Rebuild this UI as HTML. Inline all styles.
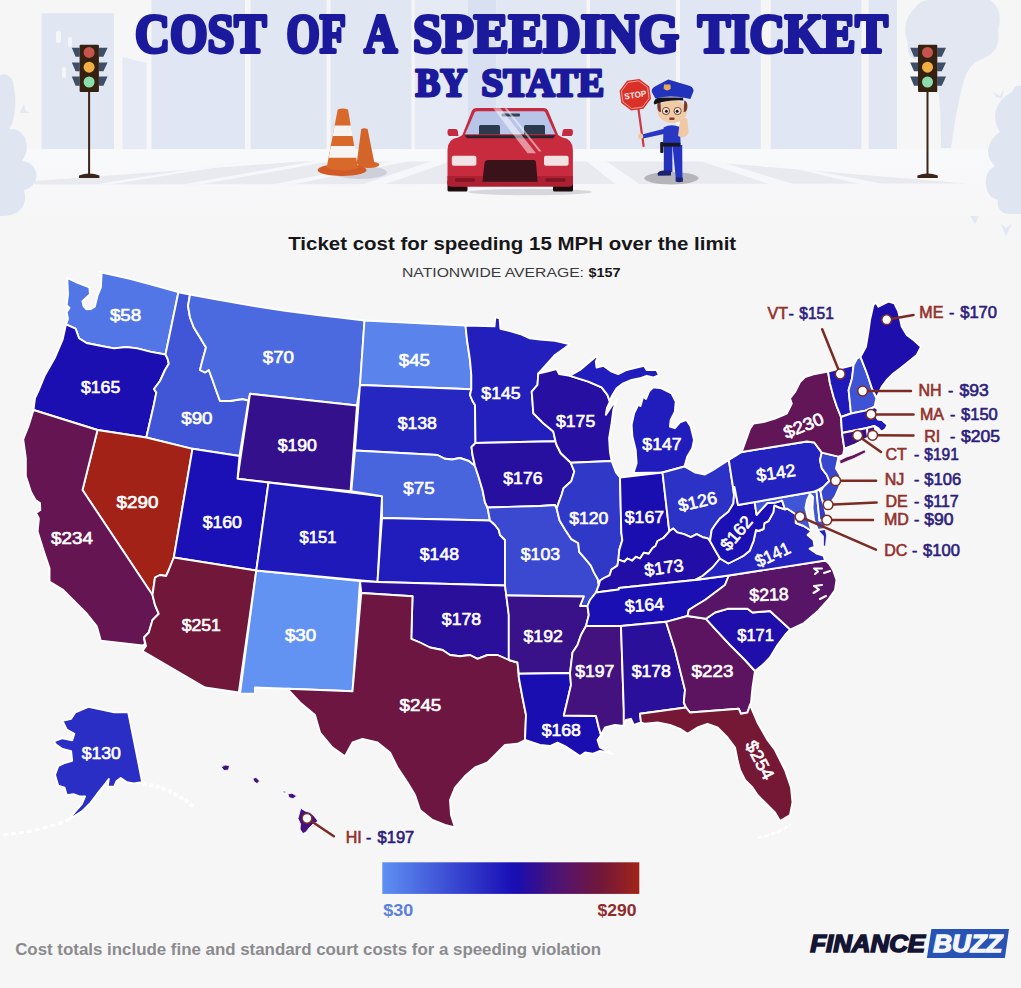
<!DOCTYPE html>
<html><head><meta charset="utf-8"><title>Cost of a Speeding Ticket by State</title>
<style>
html,body{margin:0;padding:0;background:#f6f6f6;}
body{width:1021px;height:988px;overflow:hidden;font-family:"Liberation Sans",sans-serif;}
svg{display:block}
.st{stroke:#fff;stroke-width:1.9;stroke-linejoin:round}
.lb{font-family:"Liberation Sans",sans-serif;font-weight:normal;font-size:17.4px;fill:#fff;stroke:#fff;stroke-width:0.65;text-anchor:middle}
.ab{font-family:"Liberation Sans",sans-serif;font-weight:normal;font-size:16px;fill:#93302a;stroke:#93302a;stroke-width:0.6}
.vl{font-family:"Liberation Sans",sans-serif;font-weight:normal;font-size:16px;fill:#2d1d7c;stroke:#2d1d7c;stroke-width:0.6}
.ln{stroke:#7a2b24;stroke-width:2.5;fill:none;stroke-linecap:round}
.dot{fill:#fff;stroke:#7a2b24;stroke-width:1.5}
</style></head><body>
<svg width="1021" height="988" viewBox="0 0 1021 988">
<defs>
<linearGradient id="lg" x1="0" x2="1" y1="0" y2="0"><stop offset="0.000" stop-color="#5f8ff2"/><stop offset="0.500" stop-color="#1a10b6"/><stop offset="0.531" stop-color="#1b0eb0"/><stop offset="0.569" stop-color="#2a0f9b"/><stop offset="0.615" stop-color="#35108c"/><stop offset="0.642" stop-color="#43127f"/><stop offset="0.723" stop-color="#581466"/><stop offset="0.769" stop-color="#621557"/><stop offset="0.846" stop-color="#70173a"/><stop offset="1.000" stop-color="#a2241a"/></linearGradient>
<linearGradient id="rd" x1="0" x2="0" y1="0" y2="1"><stop offset="0" stop-color="#f8f9fb"/><stop offset="0.6" stop-color="#f7f7f9"/><stop offset="1" stop-color="#f6f6f6"/></linearGradient>
</defs>
<rect width="1021" height="988" fill="#f6f6f6"/>

<g id="header">
<!-- buildings -->
<rect x="41.6" y="13.3" width="72.4" height="136" fill="#e1e6f3"/>
<path d="M122.5 57 L146.5 63 L146.5 149.3 L122.5 149.3Z" fill="#e5eaf4"/>
<rect x="151.5" y="0" width="93.5" height="149.3" fill="#e0e6f3"/>
<rect x="250.6" y="0" width="76" height="149.3" fill="#e1e6f3"/>
<rect x="330.6" y="0" width="81" height="149.3" fill="#e1e6f3"/>
<rect x="414.8" y="0" width="55" height="149.3" fill="#e6eaf5"/>
<rect x="468" y="0" width="28.4" height="149.3" fill="#d9e0f1"/>
<rect x="496.4" y="0" width="90" height="149.3" fill="#e2e7f4"/>
<rect x="590" y="0" width="86" height="149.3" fill="#e1e6f3"/>
<rect x="680" y="0" width="80.8" height="149.3" fill="#e0e6f3"/>
<rect x="770.8" y="0" width="90.6" height="149.3" fill="#e0e6f3"/>
<rect x="868.7" y="0" width="28.3" height="149.3" fill="#e1e6f3"/>
<!-- windows on bldg1 -->
<rect x="56" y="31" width="5" height="12" rx="2" fill="#f4f6fb"/><rect x="68" y="37" width="4" height="10" rx="2" fill="#f4f6fb"/><rect x="62" y="67" width="4" height="11" rx="2" fill="#f4f6fb"/>
<!-- road -->
<rect x="0" y="149.3" width="1021" height="70" fill="url(#rd)"/>
<path d="M35 181 L300 161.5 L703 161.5 L967 183.5 L35 184.5Z" fill="#e8eaf0"/>
<g fill="#f6f7fa">
<path d="M95 184.5 L110 184.5 L250 162 L236 162Z"/>
<path d="M182 184.5 L200 184.5 L332 161 L316 161Z"/>
<path d="M272 184.5 L292 184.5 L410 161 L392 161Z"/>
<path d="M362 184.5 L384 184.5 L452 161 L432 161Z"/>
<path d="M586 161 L606 161 L640 184.5 L616 184.5Z"/>
<path d="M700 161 L718 161 L795 184.5 L770 184.5Z"/>
<path d="M792 168 L808 169.5 L886 184.5 L862 184.5Z"/>
</g>
<!-- trees -->
<g fill="#dfe5f1">
<path d="M0 75 Q9 72 13 82 Q17 100 14 116 Q13 124 9 129 Q20 128 25 138 Q30 150 22 161 Q34 162 36.4 174 Q37 186 24 190 Q27 200 22 208 Q14 217 0 216Z"/>
<path d="M19.5 113 L24 104 L25.5 111 L30 113Z" opacity="0.8"/>
<path d="M1021 86 Q1015 84 1012 92 Q1000 98 996 110 Q993 122 1000 132 Q990 138 988 150 Q988 160 995 166 Q984 172 986 186 Q988 198 998 200 Q996 210 1006 213.8 L1021 214Z"/>
<path d="M993 92 L1000 96 L1004 88 L1002 98 L996 97Z M970 216 L975 224 L979 216Z M1001 224 L1006 236 L1012 224 L1006 228Z" opacity="0.85"/>
</g>
<path d="M941 148 Q941 110 938 86 Q934 66 936 60 Q905 66 908 44 Q900 22 915 8 Q920 0 930 0 L990 0 Q1004 10 998 30 Q1002 52 980 60 Q969 64 964 80 Q956 110 951 148Z" fill="#e2e7f2"/>
<!-- traffic lights -->
<g>
<path d="M71.8 47.8 L79.7 47.8 L79.7 56.7 L75.6 56.7Z M107.6 47.8 L98.8 47.8 L98.8 56.7 L103.4 56.7Z M71.8 62.6 L79.7 62.6 L79.7 71.2 L75.6 71.2Z M107.6 62.6 L98.8 62.6 L98.8 71.2 L103.4 71.2Z M71.8 76.4 L79.7 76.4 L79.7 85.7 L75.6 85.7Z M107.6 76.4 L98.8 76.4 L98.8 85.7 L103.4 85.7Z" fill="#3d4e66"/>
<rect x="79.6" y="44.8" width="19.3" height="47.2" rx="1" fill="#35210f"/>
<circle cx="89.1" cy="52.4" r="5.5" fill="#c6544e"/><circle cx="89.1" cy="67.2" r="5.5" fill="#f0ae44"/><circle cx="89.1" cy="82" r="5.5" fill="#8cdcae"/>
<rect x="88.1" y="91.5" width="2" height="82.5" fill="#3c2418"/>
<path d="M79 178 L99.4 178 L99.4 175.5 Q89.2 171.5 79 175.5Z" fill="#3c2418"/>
</g>
<g transform="translate(838.4 0)">
<path d="M71.8 47.8 L79.7 47.8 L79.7 56.7 L75.6 56.7Z M107.6 47.8 L98.8 47.8 L98.8 56.7 L103.4 56.7Z M71.8 62.6 L79.7 62.6 L79.7 71.2 L75.6 71.2Z M107.6 62.6 L98.8 62.6 L98.8 71.2 L103.4 71.2Z M71.8 76.4 L79.7 76.4 L79.7 85.7 L75.6 85.7Z M107.6 76.4 L98.8 76.4 L98.8 85.7 L103.4 85.7Z" fill="#3d4e66"/>
<rect x="79.6" y="44.8" width="19.3" height="47.2" rx="1" fill="#35210f"/>
<circle cx="89.1" cy="52.4" r="5.5" fill="#c6544e"/><circle cx="89.1" cy="67.2" r="5.5" fill="#f0ae44"/><circle cx="89.1" cy="82" r="5.5" fill="#8cdcae"/>
<rect x="88.1" y="91.5" width="2" height="82.5" fill="#3c2418"/>
<path d="M79 178 L99.4 178 L99.4 175.5 Q89.2 171.5 79 175.5Z" fill="#3c2418"/>
</g>
<!-- cones -->
<ellipse cx="360" cy="172.4" rx="27" ry="6.5" fill="#cdd0d8"/>
<ellipse cx="368.6" cy="164.8" rx="10.8" ry="3.2" fill="#d8642a"/>
<path d="M361.2 129 Q364.4 127.6 367.6 129 L374.6 164 L356.6 164Z" fill="#d4652a"/>
<ellipse cx="342.1" cy="170" rx="24.5" ry="6" fill="#d25a26"/>
<path d="M337.7 109.4 Q342.8 107.6 348 109.4 L358 168 Q342 173 326.6 168Z" fill="#d8692a"/>
<path d="M334.6 125.4 L351 125.4 L352.9 136.1 L332.7 136.1Z M330.9 145.9 L354.7 145.9 L356.8 157.7 L328.7 157.7Z" fill="#f6f3f2"/>
<!-- car -->
<ellipse cx="530" cy="192" rx="62" ry="3.2" fill="#d6d7dc"/>
<rect x="447.5" y="180" width="20" height="11.6" rx="1.5" fill="#1c0c0e"/><rect x="553" y="180" width="20" height="11.6" rx="1.5" fill="#1c0c0e"/>
<path d="M461.6 137 L472 110.5 Q473 108 476 108 L544 108 Q547 108 548 110.5 L559 137Z" fill="#c62a3e"/>
<path d="M464.5 135.5 L474.6 112.6 Q475.2 111.3 477 111.3 L543 111.3 Q544.8 111.3 545.4 112.6 L555.7 135.5Z" fill="#b9c4e9"/>
<rect x="479" y="125" width="21" height="11" rx="1.5" fill="#2c3a4c"/><rect x="524" y="125" width="21" height="11" rx="1.5" fill="#2c3a4c"/>
<rect x="501.6" y="113.6" width="18.4" height="3" rx="1" fill="#39424f"/>
<path d="M447.5 131 Q447.5 129 449.5 129 L455.5 129 Q457.5 129 457.8 131 L458.5 136 L449 136 Q447.5 135 447.5 133Z M572.9 131 Q572.9 129 570.9 129 L564.9 129 Q562.9 129 562.6 131 L561.9 136 L571.4 136 Q572.9 135 572.9 133Z" fill="#c62a3e"/>
<path d="M447.5 150 Q447.5 139 458 137.5 L464 134.3 L556.5 134.3 L562.5 137.5 Q572.9 139 572.9 150 L572.9 183 Q572.9 186.6 569 186.6 L451.5 186.6 Q447.5 186.6 447.5 183Z" fill="#c82a3e"/>
<path d="M447.5 176 L572.9 176 L572.9 183 Q572.9 186.6 569 186.6 L451.5 186.6 Q447.5 186.6 447.5 183Z" fill="#ad2032"/>
<path d="M464.5 135.2 L555.7 135.2 L553 138.2 L467 138.2Z" fill="#2a2630"/>
<path d="M488.5 160 L533.5 160 Q536 160 536 163 L537.6 181.8 L482.4 181.8 L484.5 163 Q485 160 488.5 160Z" fill="#3a1219"/>
<rect x="451.8" y="155.8" width="24.6" height="10" rx="2" fill="#f1e3e3"/><rect x="544" y="155.8" width="24.6" height="10" rx="2" fill="#f1e3e3"/>
<rect x="455" y="178.2" width="20" height="3.6" rx="1.5" fill="#7d1423"/><rect x="545.5" y="178.2" width="20" height="3.6" rx="1.5" fill="#7d1423"/>
<path d="M493.3 108.3 L500.5 108.3 L536 153.3 L527.5 153.3Z M504.5 108.3 L507 108.3 L541.5 151.5 L539 151.5Z" fill="#ffffff" opacity="0.5"/>
<!-- police -->
<ellipse cx="671.4" cy="178.2" rx="27" ry="6.3" fill="#b4b4b9"/>
<line x1="638.3" y1="108" x2="643.6" y2="146" stroke="#cc3a44" stroke-width="2.2" stroke-linecap="round"/>
<g transform="translate(635.3 94.7) rotate(-8)">
<path d="M-6.2 -15 L6.2 -15 L15 -6.2 L15 6.2 L6.2 15 L-6.2 15 L-15 6.2 L-15 -6.2Z" fill="#da3028"/>
<path d="M-5.5 -13.2 L5.5 -13.2 L13.2 -5.5 L13.2 5.5 L5.5 13.2 L-5.5 13.2 L-13.2 5.5 L-13.2 -5.5Z" fill="none" stroke="#f4c8c0" stroke-width="0.7"/>
<text x="0" y="3.2" text-anchor="middle" font-family="Liberation Sans, sans-serif" font-weight="bold" font-size="8.6" fill="#fbe9e6" textLength="22" lengthAdjust="spacingAndGlyphs">STOP</text>
</g>
<rect x="663.8" y="145" width="8.6" height="27" fill="#2230ba"/>
<path d="M672.4 145 L682.2 145 L682.4 178 L675.8 178Z" fill="#2434c0"/>
<path d="M657.5 173.5 Q659 170.4 664 170.6 L671 170.6 L671 175.4 L658 175.8Z" fill="#1c2470"/>
<path d="M675.6 177.4 L682.8 177.4 L683 181.6 Q679 183 675.6 181.6Z" fill="#1c2470"/>
<path d="M663.6 127.5 Q671 123.5 680 127 L680.6 144.8 L663 144.8Z" fill="#2838c2"/>
<path d="M665 128.5 L664 134 L643 138.6 L642 134.4Z" fill="#2838c2"/>
<circle cx="640.6" cy="136.2" r="2.6" fill="#f0c8a2"/>
<rect x="660.6" y="142.8" width="19.8" height="3.8" fill="#16161e"/>
<rect x="660.2" y="142" width="3.2" height="11" rx="1" fill="#1a1a24"/>
<path d="M678 136 L680 121 Q684 116 687.4 119 L688.6 132 Q687 137.4 682 137.4Z" fill="#f0c9a4"/>
<ellipse cx="672.3" cy="111.5" rx="14.6" ry="11.4" fill="#f1caa6"/>
<path d="M657.4 108 Q656.6 101 660.5 100.5 L661 112 Q658 112.5 657.4 108Z M687.3 108 Q688 101 684.2 100.5 L683.7 112 Q686.6 112.5 687.3 108Z" fill="#7c3c2a"/>
<circle cx="666" cy="111" r="3.6" fill="#f6e6d8" stroke="#4a2a22" stroke-width="0.8"/><circle cx="677.6" cy="111" r="3.6" fill="#f6e6d8" stroke="#4a2a22" stroke-width="0.8"/>
<circle cx="666.4" cy="111.2" r="1.5" fill="#2a1a16"/><circle cx="677.2" cy="111.2" r="1.5" fill="#2a1a16"/>
<rect x="669.2" y="117.6" width="5.4" height="2.4" rx="1.1" fill="#8a3a2c"/>
<path d="M653.7 103 Q654 98 660 97.4 L683 97.4 L683.4 100.5 Q668 99.5 654.5 104.4Z" fill="#14141c"/>
<path d="M651.8 92 Q651 88.5 655 86.4 L668.2 79.6 L690 86 Q694.2 88 693.4 91.6 L690.4 99 Q671 94.5 655.4 98.4Z" fill="#2232bc"/>
<path d="M664 84.4 L670.4 84.4 L670.8 88.6 Q667.2 92.4 663.6 88.6Z" fill="#e8aa58"/>
</g>

<g id="map">
<g id="isl" fill="none" stroke="#ffffff" stroke-linecap="butt"><path d="M70 819 Q40 832 2 835" stroke-width="3" stroke-dasharray="5 3"/><path d="M143 783.5 Q172 788 195 808" stroke-width="4" stroke-dasharray="4 2.5"/><path d="M757 838 Q778 834 791 824" stroke-width="2.5" stroke-dasharray="5 2"/></g>
<path class="st" fill="#5276e5" d="M67.3 277.8 L77.0 282.6 L89.3 287.4 L90.0 294.3 L82.4 301.1 L83.5 306.0 L86.5 309.4 L91.0 309.0 L94.8 306.6 L97.5 295.7 L100.9 287.4 L101.6 273.7 L99.6 272.0 L130.0 278.9 L155.0 285.7 L178.4 292.2 L165.5 354.5 L151.0 351.9 L137.3 348.4 L126.3 347.0 L114.0 348.4 L100.2 345.7 L86.5 343.0 L79.0 338.2 L75.6 328.6 L66.0 324.4 L68.0 319.0 L66.7 312.0 L69.5 308.0 L66.7 305.2 L68.0 294.3Z"/>
<path class="st" fill="#1b0fb2" d="M66.0 324.4 L75.6 328.6 L79.0 338.2 L86.5 343.0 L100.2 345.7 L114.0 348.4 L126.3 347.0 L137.3 348.4 L151.0 351.9 L165.5 354.5 L167.5 358.5 L168.8 363.8 L165.0 370.0 L160.0 381.0 L154.0 389.0 L156.3 392.5 L153.8 405.0 L146.3 437.5 L97.5 430.0 L33.5 410.0 L35.0 398.0 L38.8 390.0 L45.0 375.0 L55.0 357.5 L62.5 340.0Z"/>
<path class="st" fill="#4156d6" d="M178.4 292.2 L190.0 294.5 L188.0 306.0 L190.0 317.5 L193.8 327.5 L200.0 337.5 L206.0 347.5 L202.5 360.0 L200.0 370.0 L205.0 372.5 L208.8 370.0 L212.5 380.0 L216.0 390.0 L220.0 401.0 L230.0 401.0 L242.5 399.0 L248.5 400.5 L239.5 456.0 L192.5 448.8 L146.3 437.5 L153.8 405.0 L156.3 392.5 L154.0 389.0 L160.0 381.0 L165.0 370.0 L168.8 363.8 L167.5 358.5 L165.5 354.5Z"/>
<path class="st" fill="#4c6ae0" d="M190.0 294.5 L220.0 300.1 L250.0 305.4 L285.0 310.8 L320.0 315.4 L340.0 317.6 L364.5 320.5 L360.0 385.0 L357.0 405.5 L250.0 393.8 L248.5 400.5 L242.5 399.0 L230.0 401.0 L220.0 401.0 L216.0 390.0 L212.5 380.0 L208.8 370.0 L205.0 372.5 L200.0 370.0 L202.5 360.0 L206.0 347.5 L200.0 337.5 L193.8 327.5 L190.0 317.5 L188.0 306.0Z"/>
<path class="st" fill="#35108c" d="M250.0 393.8 L357.0 405.5 L350.5 491.3 L237.5 478.8Z"/>
<path class="st" fill="#a22217" d="M97.5 430.0 L146.3 437.5 L192.5 448.8 L173.8 557.5 L168.8 570.0 L166.0 576.0 L160.0 575.0 L155.0 577.5 L152.5 595.0 L82.5 490.0Z"/>
<path class="st" fill="#1a10b6" d="M192.5 448.8 L239.5 456.0 L237.5 478.8 L268.5 482.5 L256.3 570.5 L173.8 557.5Z"/>
<path class="st" fill="#651551" d="M33.5 410.0 L97.5 430.0 L82.5 490.0 L152.5 595.0 L155.0 605.0 L158.8 613.8 L152.5 620.0 L148.8 632.5 L144.0 637.5 L145.0 644.0 L142.5 645.5 L100.8 640.8 L96.8 626.3 L86.3 613.2 L75.8 602.6 L62.6 589.5 L49.5 581.6 L49.5 568.4 L44.2 552.6 L37.6 531.6 L38.9 518.4 L36.0 513.0 L40.3 510.0 L40.0 503.0 L35.5 500.0 L31.0 492.0 L25.8 476.0 L25.8 458.0 L23.2 439.5 L28.5 426.0Z"/>
<path class="st" fill="#711739" d="M173.8 557.5 L256.3 570.5 L238.8 692.5 L205.0 687.5 L142.5 651.0 L146.0 646.0 L144.0 637.5 L148.8 632.5 L152.5 620.0 L158.8 613.8 L155.0 605.0 L152.5 595.0 L155.0 577.5 L160.0 575.0 L166.0 576.0 L168.8 570.0Z"/>
<path class="st" fill="#6292f2" d="M256.3 570.5 L360.0 581.0 L352.5 691.3 L287.5 688.8 L255.0 687.5 L255.0 693.8 L240.0 693.8Z"/>
<path class="st" fill="#1f19ba" d="M268.5 482.5 L382.0 496.3 L377.5 582.0 L256.3 570.5Z"/>
<path class="st" fill="#5a83eb" d="M364.5 320.5 L465.5 325.5 L467.0 340.0 L470.0 360.0 L471.3 375.0 L471.3 389.3 L360.0 385.0Z"/>
<path class="st" fill="#2626c0" d="M360.0 385.0 L471.3 389.3 L470.0 395.0 L472.5 401.0 L475.0 405.0 L475.5 443.0 L471.5 447.0 L472.5 455.0 L475.0 466.0 L468.8 461.0 L460.0 458.0 L452.0 459.5 L445.0 458.8 L437.5 455.0 L355.0 450.5Z"/>
<path class="st" fill="#4965dd" d="M355.0 450.5 L437.5 455.0 L445.0 458.8 L452.0 459.5 L460.0 458.0 L468.8 461.0 L475.0 466.0 L478.8 477.5 L482.5 490.0 L485.0 502.5 L487.5 507.5 L490.0 520.5 L382.0 518.0 L382.0 496.3 L351.3 491.3Z"/>
<path class="st" fill="#211cbc" d="M382.0 518.0 L490.0 520.5 L495.0 525.0 L498.8 530.0 L500.0 535.0 L505.0 540.0 L505.0 585.5 L377.5 582.0Z"/>
<path class="st" fill="#2a0f9b" d="M360.0 581.0 L377.5 582.0 L505.0 585.5 L506.3 595.5 L508.8 615.0 L508.8 660.0 L497.5 655.0 L487.5 655.0 L477.5 658.8 L470.0 655.0 L460.0 656.3 L450.0 655.0 L442.5 650.0 L430.0 647.5 L420.0 642.5 L411.3 638.8 L412.5 596.3 L361.3 593.0Z"/>
<path class="st" fill="#6c1641" d="M361.3 593.0 L412.5 596.3 L411.3 638.8 L420.0 642.5 L430.0 647.5 L442.5 650.0 L450.0 655.0 L460.0 656.3 L470.0 655.0 L477.5 658.8 L487.5 655.0 L497.5 655.0 L508.8 660.0 L517.5 662.5 L518.8 677.5 L522.5 697.5 L526.0 715.0 L525.0 740.0 L517.5 743.8 L505.0 745.0 L497.5 752.5 L487.5 762.5 L475.0 767.5 L465.0 776.0 L455.0 787.5 L450.0 800.0 L451.0 815.0 L455.0 827.5 L445.0 825.0 L432.5 820.0 L420.0 810.0 L415.0 795.0 L407.5 782.5 L397.5 767.5 L390.0 752.5 L377.5 742.5 L362.5 738.8 L352.5 742.5 L345.0 756.3 L332.5 747.5 L320.0 732.5 L315.0 715.0 L300.0 702.5 L287.5 688.8 L352.5 691.3Z"/>
<path class="st" fill="#221fbd" d="M465.5 325.5 L494.5 326.3 L495.3 317.2 L499.6 318.3 L500.4 328.8 L510.0 331.0 L520.0 334.0 L530.0 338.3 L540.0 339.5 L555.0 340.8 L570.0 344.2 L555.0 355.0 L540.0 371.6 L538.3 373.5 L537.5 384.9 L531.7 391.6 L532.5 401.6 L533.3 413.3 L543.3 423.2 L553.3 431.6 L555.5 441.3 L475.5 443.0 L475.0 405.0 L472.5 401.0 L470.0 395.0 L471.3 389.3 L471.3 375.0 L470.0 360.0 L467.0 340.0Z"/>
<path class="st" fill="#270f9f" d="M475.5 443.0 L555.5 441.3 L556.6 445.0 L560.8 453.2 L570.8 462.8 L574.3 471.5 L571.3 481.3 L563.5 488.2 L561.5 495.0 L558.6 502.9 L556.7 508.8 L555.0 505.0 L540.0 506.0 L487.5 507.5 L485.0 502.5 L482.5 490.0 L478.8 477.5 L475.0 466.0 L472.5 455.0 L471.5 447.0Z"/>
<path class="st" fill="#3a49d0" d="M487.5 507.5 L540.0 506.0 L555.0 505.0 L556.7 508.8 L559.6 520.5 L565.5 530.3 L571.3 539.1 L578.2 543.0 L579.2 551.9 L585.1 558.7 L590.9 565.6 L593.9 572.4 L597.8 579.3 L598.8 585.2 L596.0 592.5 L590.0 600.0 L587.5 606.0 L580.0 606.0 L583.8 596.5 L506.3 595.5 L505.0 585.5 L505.0 540.0 L500.0 535.0 L498.8 530.0 L495.0 525.0 L490.0 520.5Z"/>
<path class="st" fill="#391188" d="M506.3 595.5 L583.8 596.5 L580.0 606.0 L587.5 606.0 L588.8 615.0 L586.0 626.0 L581.0 635.0 L577.5 645.0 L572.5 652.5 L571.0 665.0 L570.0 673.0 L518.8 673.8 L517.5 662.5 L508.8 660.0 L508.8 615.0Z"/>
<path class="st" fill="#1b0eb0" d="M518.8 673.8 L570.0 673.0 L571.0 685.0 L567.5 700.0 L563.8 715.5 L596.0 716.0 L598.8 727.5 L601.0 735.0 L597.5 740.0 L600.0 747.5 L612.5 753.8 L600.0 751.0 L592.5 753.8 L585.0 752.5 L580.0 756.0 L572.5 751.0 L565.0 746.0 L557.5 742.5 L550.0 746.0 L540.0 745.0 L525.0 740.0 L526.0 715.0 L522.5 697.5 L518.8 677.5Z"/>
<path class="st" fill="#260fa1" d="M538.3 373.5 L547.0 371.5 L556.6 369.1 L559.1 374.1 L570.0 375.8 L588.3 381.6 L601.6 387.4 L607.4 394.9 L609.9 401.6 L607.0 408.0 L605.8 414.9 L611.0 407.0 L616.6 399.9 L613.3 409.9 L611.6 423.2 L609.1 438.2 L609.9 451.5 L611.6 461.0 L570.8 462.8 L560.8 453.2 L556.6 445.0 L555.5 441.3 L553.3 431.6 L543.3 423.2 L533.3 413.3 L532.5 401.6 L531.7 391.6 L537.5 384.9Z"/>
<path class="st" fill="#211dbc" d="M570.0 375.8 L580.0 370.0 L590.0 361.6 L599.1 354.1 L595.8 361.6 L596.6 367.5 L603.3 365.8 L611.6 371.6 L618.2 374.1 L626.6 370.0 L636.6 367.5 L644.1 365.8 L646.6 370.0 L656.5 370.0 L659.0 375.0 L653.2 377.5 L646.6 375.8 L639.9 378.3 L631.6 380.0 L623.2 383.3 L616.6 388.3 L611.6 396.6 L609.9 401.6 L607.4 394.9 L601.6 387.4 L588.3 381.6Z"/>
<path class="st" fill="#211dbc" d="M653.2 387.4 L661.5 388.3 L671.5 393.3 L675.7 401.6 L674.9 411.6 L670.7 419.9 L669.9 426.6 L674.9 428.2 L679.9 422.4 L686.5 419.9 L690.7 426.6 L694.0 439.9 L692.3 448.2 L687.3 456.5 L684.5 466.5 L662.5 472.5 L633.5 473.0 L636.6 463.2 L635.7 449.9 L632.4 436.6 L631.6 424.9 L634.1 413.3 L638.2 404.9 L640.5 406.0 L643.2 396.6 L646.0 399.0 L649.0 391.6Z"/>
<path class="st" fill="#3038c8" d="M570.8 462.8 L611.6 461.0 L616.0 472.5 L620.0 477.5 L621.3 532.3 L622.3 540.1 L619.3 549.9 L618.4 559.7 L617.4 565.6 L611.5 569.5 L609.5 575.4 L604.0 578.0 L600.0 580.5 L598.8 585.2 L597.8 579.3 L593.9 572.4 L590.9 565.6 L585.1 558.7 L579.2 551.9 L578.2 543.0 L571.3 539.1 L565.5 530.3 L559.6 520.5 L556.7 508.8 L558.6 502.9 L561.5 495.0 L563.5 488.2 L571.3 481.3 L574.3 471.5Z"/>
<path class="st" fill="#1b0eb1" d="M620.0 477.5 L662.5 472.5 L669.3 531.3 L663.4 538.0 L657.5 541.0 L655.5 546.0 L652.6 548.0 L648.7 553.8 L643.8 552.8 L640.0 558.5 L636.0 556.8 L632.0 560.7 L627.5 558.5 L624.2 561.7 L618.4 559.7 L619.3 549.9 L622.3 540.1 L621.3 532.3Z"/>
<path class="st" fill="#2d32c6" d="M662.5 472.5 L684.5 466.5 L695.0 472.5 L705.0 474.5 L715.0 468.8 L728.8 460.0 L733.0 487.0 L734.0 495.0 L733.4 503.4 L728.4 511.8 L720.0 518.4 L715.0 525.0 L711.7 530.0 L710.0 541.0 L707.5 538.2 L702.6 537.2 L696.7 534.2 L690.8 537.2 L684.0 534.2 L677.1 532.3 L673.2 528.4 L669.3 531.3Z"/>
<path class="st" fill="#220ea6" d="M598.8 585.2 L600.0 580.5 L604.0 578.0 L609.5 575.4 L611.5 569.5 L617.4 565.6 L618.4 559.7 L624.2 561.7 L627.5 558.5 L632.0 560.7 L636.0 556.8 L640.0 558.5 L643.8 552.8 L648.7 553.8 L652.6 548.0 L655.5 546.0 L657.5 541.0 L663.4 538.0 L669.3 531.3 L673.2 528.4 L677.1 532.3 L684.0 534.2 L690.8 537.2 L696.7 534.2 L702.6 537.2 L707.5 538.2 L710.0 541.0 L715.0 550.0 L720.0 558.5 L712.5 567.5 L702.5 576.0 L695.0 580.0 L618.8 588.0 L618.8 589.5 L596.0 592.5Z"/>
<path class="st" fill="#1a0fb3" d="M596.0 592.5 L618.8 589.5 L618.8 588.0 L695.0 580.0 L728.8 575.5 L725.0 585.0 L715.0 592.5 L705.0 600.0 L695.0 606.0 L688.8 610.0 L687.5 616.0 L666.0 621.8 L621.0 626.0 L586.0 626.0 L588.8 615.0 L587.5 606.0 L590.0 600.0Z"/>
<path class="st" fill="#43127f" d="M586.0 626.0 L621.0 626.0 L623.8 710.0 L623.8 726.0 L615.0 725.0 L605.0 727.5 L601.0 735.0 L598.8 727.5 L596.0 716.0 L563.8 715.5 L567.5 700.0 L571.0 685.0 L570.0 673.0 L571.0 665.0 L572.5 652.5 L577.5 645.0 L581.0 635.0Z"/>
<path class="st" fill="#2a0f9b" d="M621.0 626.0 L666.0 621.8 L675.0 650.0 L682.5 680.0 L685.0 690.0 L683.8 702.5 L686.0 707.5 L640.0 713.8 L641.0 722.5 L633.8 725.0 L631.0 718.8 L626.0 720.0 L623.8 726.0 L623.8 710.0Z"/>
<path class="st" fill="#5c1460" d="M666.0 621.8 L687.5 616.0 L706.0 618.8 L715.0 628.8 L730.0 645.0 L745.0 660.0 L755.0 671.0 L752.5 687.5 L751.0 702.5 L750.0 705.0 L747.5 712.5 L741.0 713.8 L738.8 708.8 L690.0 712.5 L686.0 707.5 L683.8 702.5 L685.0 690.0 L682.5 680.0 L675.0 650.0Z"/>
<path class="st" fill="#751836" d="M640.0 713.8 L686.0 707.5 L690.0 712.5 L738.8 708.8 L741.0 713.8 L747.5 712.5 L750.0 705.0 L757.5 722.5 L767.5 740.0 L775.0 750.0 L785.0 770.0 L791.0 787.5 L792.5 802.5 L790.0 815.0 L780.0 821.0 L775.0 812.5 L765.0 802.5 L757.5 795.0 L752.5 787.5 L745.0 780.0 L740.0 770.0 L737.5 760.0 L735.0 747.5 L727.5 737.5 L717.5 727.5 L707.5 723.8 L697.5 727.5 L687.5 733.8 L680.0 728.8 L670.0 725.0 L657.5 722.5 L645.0 723.8 L641.0 722.5Z"/>
<path class="st" fill="#200eaa" d="M706.0 618.8 L715.0 612.5 L727.5 608.8 L747.5 608.8 L752.5 612.5 L770.0 611.0 L790.2 629.5 L785.0 635.0 L777.5 645.0 L770.0 657.5 L762.5 665.0 L755.0 671.0 L745.0 660.0 L730.0 645.0 L715.0 628.8Z"/>
<path class="st" fill="#581466" d="M728.8 575.5 L825.3 560.5 L829.0 563.5 L833.0 570.0 L836.5 580.0 L835.0 590.0 L828.0 600.0 L818.0 611.0 L804.0 623.0 L790.2 629.5 L770.0 611.0 L752.5 612.5 L747.5 608.8 L727.5 608.8 L715.0 612.5 L706.0 618.8 L687.5 616.0 L688.8 610.0 L695.0 606.0 L705.0 600.0 L715.0 592.5 L725.0 585.0Z"/>
<path class="st" fill="#2523bf" d="M695.0 580.0 L702.5 576.0 L712.5 567.5 L720.0 558.5 L728.4 563.5 L738.4 558.5 L743.8 555.6 L749.7 550.7 L753.6 540.8 L756.0 530.0 L758.6 531.0 L763.5 529.0 L764.4 523.2 L768.4 521.2 L773.3 512.4 L774.3 505.5 L779.2 507.5 L785.0 509.4 L787.0 508.5 L795.8 514.3 L795.8 523.0 L803.7 526.0 L811.5 531.0 L807.6 535.0 L813.5 540.0 L814.5 546.7 L809.6 548.7 L816.5 553.6 L823.3 555.6 L825.3 560.5 L728.8 575.5Z"/>
<path class="st" style="stroke-width:0.7" fill="#2523bf" d="M818.0 530.0 L825.0 529.0 L826.5 535.0 L825.5 546.0 L823.5 546.0 L823.5 536.0Z"/>
<path class="st" fill="#1a10b4" d="M710.0 541.0 L711.7 530.0 L715.0 525.0 L720.0 518.4 L728.4 511.8 L733.4 503.4 L734.0 495.0 L733.0 487.0 L734.5 487.0 L738.0 505.0 L754.6 502.1 L756.6 514.8 L767.4 503.0 L775.2 502.6 L782.1 500.6 L785.0 509.4 L779.2 507.5 L774.3 505.5 L773.3 512.4 L768.4 521.2 L764.4 523.2 L763.5 529.0 L758.6 531.0 L756.0 530.0 L753.6 540.8 L749.7 550.7 L743.8 555.6 L738.4 558.5 L728.4 563.5 L720.0 558.5 L715.0 550.0Z"/>
<path class="st" fill="#4156d6" d="M754.6 502.1 L813.5 491.8 L816.5 491.0 L819.5 520.5 L826.5 520.0 L825.0 529.0 L818.0 530.0 L814.0 520.0 L812.5 508.0 L813.0 497.0 L810.0 494.0 L807.0 500.0 L805.5 508.0 L808.0 518.0 L811.5 531.0 L803.7 526.0 L795.8 523.0 L795.8 514.3 L787.0 508.5 L785.0 509.4 L782.1 500.6 L775.2 502.6 L767.4 503.0 L756.6 514.8Z"/>
<path class="st" fill="#323bca" d="M816.5 491.0 L818.5 489.5 L820.5 491.5 L821.8 498.5 L824.0 506.0 L827.0 517.0 L826.5 520.0 L819.5 520.5Z"/>
<path class="st" fill="#2422be" d="M728.8 460.0 L741.0 452.5 L741.7 452.0 L806.8 441.5 L814.3 442.5 L821.8 452.6 L820.0 460.0 L821.8 468.4 L826.8 475.0 L829.3 481.0 L823.5 486.8 L818.5 489.5 L813.5 491.8 L738.0 505.0 L734.5 487.0 L733.0 487.0Z"/>
<path class="st" fill="#3846cf" d="M821.8 452.6 L838.5 456.7 L836.0 468.4 L840.0 475.0 L839.4 486.8 L835.0 496.8 L830.0 503.5 L825.0 506.8 L821.8 498.5 L820.5 491.5 L823.5 486.8 L829.3 481.0 L826.8 475.0 L821.8 468.4 L820.0 460.0Z"/>
<path class="st" fill="#621557" d="M741.7 452.0 L750.0 428.6 L753.4 423.6 L763.4 422.0 L775.0 418.6 L786.8 413.6 L791.8 403.6 L790.0 398.5 L795.0 392.0 L800.0 382.0 L805.0 377.0 L813.5 374.3 L828.0 371.5 L830.0 383.5 L833.6 397.0 L837.0 407.0 L841.0 417.0 L842.0 433.0 L844.4 448.6 L843.0 455.0 L838.5 456.7 L821.8 452.6 L814.3 442.5 L806.8 441.5Z"/>
<path class="st" style="stroke-width:0.7" fill="#621557" d="M839.5 460.6 L846.0 457.2 L853.0 454.9 L864.6 449.8 L865.8 452.4 L854.5 458.2 L847.0 461.2 L840.5 464.0Z"/>
<path class="st" fill="#1f19ba" d="M828.0 371.5 L853.6 365.0 L852.0 378.5 L848.6 390.0 L850.0 403.5 L851.0 413.5 L841.0 417.0 L837.0 407.0 L833.6 397.0 L830.0 383.5Z"/>
<path class="st" fill="#3f53d5" d="M853.6 365.0 L857.0 358.5 L860.5 356.8 L867.0 373.5 L872.0 388.5 L876.5 398.0 L874.5 407.0 L865.3 410.6 L851.0 413.5 L850.0 403.5 L848.6 390.0 L852.0 378.5Z"/>
<path class="st" fill="#1e0eac" d="M860.5 356.8 L865.9 346.8 L868.4 331.8 L870.0 320.0 L873.4 305.0 L876.0 302.5 L878.4 306.7 L888.4 301.7 L894.3 303.4 L898.4 311.7 L901.8 326.7 L906.8 335.0 L913.5 340.0 L921.0 346.8 L916.8 355.0 L908.5 361.8 L900.0 368.5 L893.4 373.5 L886.7 380.0 L881.7 386.9 L876.5 398.0 L872.0 388.5 L867.0 373.5Z"/>
<path class="st" fill="#201abb" d="M841.0 417.0 L851.0 413.5 L865.3 410.6 L874.5 407.0 L878.0 409.5 L875.5 416.0 L878.0 419.5 L882.0 420.0 L887.5 425.0 L885.5 429.0 L881.5 431.8 L878.0 428.0 L874.5 426.0 L867.0 428.0 L842.0 433.0Z"/>
<path class="st" fill="#37108a" d="M842.0 433.0 L867.0 428.0 L868.0 437.5 L854.0 445.0 L844.4 448.6Z"/>
<path class="st" fill="#4b1375" d="M867.0 428.0 L874.5 426.0 L876.0 433.6 L870.0 438.6 L868.0 437.5Z"/>
<path class="st" fill="#2b2ec4" d="M88.3 706.9 L99.0 709.0 L114.2 712.3 L128.2 712.3 L134.7 744.6 L142.2 782.3 L133.6 783.4 L127.0 782.3 L120.7 778.0 L116.4 781.3 L114.2 786.7 L107.7 786.7 L108.8 779.0 L105.6 783.4 L97.0 794.2 L90.5 802.8 L81.9 811.4 L73.3 816.8 L70.0 818.0 L75.4 811.4 L81.9 803.9 L85.1 796.4 L79.7 796.4 L73.3 794.2 L66.8 795.3 L64.6 787.7 L58.2 785.6 L55.0 774.8 L58.2 766.2 L64.6 763.0 L72.2 760.8 L71.1 751.1 L62.5 749.0 L56.0 744.6 L53.9 741.4 L62.5 738.2 L72.2 740.3 L74.3 733.9 L66.8 729.6 L62.5 720.9 L71.1 718.8 L75.4 712.3Z"/>
<path class="st" style="stroke-width:0.8" fill="#43127f" d="M300.8 808.3 L305.0 811.0 L310.0 812.5 L314.0 816.0 L318.0 821.3 L313.0 824.0 L309.0 828.0 L306.0 832.0 L302.8 833.6 L300.0 829.0 L300.5 824.0 L298.0 818.6 L299.5 813.0Z"/>
<path class="st" style="stroke-width:0.8" fill="#43127f" d="M287.8 794.0 L292.0 793.2 L296.7 796.0 L293.0 798.7 L289.0 797.5Z"/>
<path class="st" style="stroke-width:0.8" fill="#43127f" d="M252.8 778.5 L256.0 777.4 L259.6 781.0 L257.0 783.6 L254.0 781.5Z"/>
<path class="st" style="stroke-width:0.8" fill="#43127f" d="M221.3 767.0 L225.0 765.0 L229.5 765.5 L228.5 770.0 L224.0 770.6Z"/>
<path class="st" style="stroke-width:0.8" fill="#43127f" d="M283.0 791.0 L286.0 791.5 L285.5 793.0 L283.0 792.5Z"/>
<path id="sounds" d="M822 568.5 L814 568.5 L818 571.5 L815 574 M830 571 L824 573 M822 585 L814 586 L819 589.5 L813.5 593 M826 596 L820 599" fill="none" stroke="#ffffff" stroke-width="2.1" stroke-linecap="round" stroke-linejoin="round"/>
</g>
<g id="labels">
<text class="lb" x="125.6" y="320.5" textLength="31.3" lengthAdjust="spacingAndGlyphs">$58</text>
<text class="lb" x="100.6" y="392.5" textLength="39.3" lengthAdjust="spacingAndGlyphs">$165</text>
<text class="lb" x="278.4" y="363.0" textLength="31.3" lengthAdjust="spacingAndGlyphs">$70</text>
<text class="lb" x="196.9" y="423.8" textLength="31.3" lengthAdjust="spacingAndGlyphs">$90</text>
<text class="lb" x="297.3" y="451.0" textLength="39.3" lengthAdjust="spacingAndGlyphs">$190</text>
<text class="lb" x="137.5" y="508.0" textLength="41.8" lengthAdjust="spacingAndGlyphs">$290</text>
<text class="lb" x="72.0" y="543.8" textLength="41.8" lengthAdjust="spacingAndGlyphs">$234</text>
<text class="lb" x="222.3" y="527.5" textLength="39.3" lengthAdjust="spacingAndGlyphs">$160</text>
<text class="lb" x="318.0" y="542.5" textLength="36.8" lengthAdjust="spacingAndGlyphs">$151</text>
<text class="lb" x="201.3" y="631.3" textLength="39.3" lengthAdjust="spacingAndGlyphs">$251</text>
<text class="lb" x="300.6" y="641.3" textLength="31.3" lengthAdjust="spacingAndGlyphs">$30</text>
<text class="lb" x="414.4" y="365.5" textLength="31.3" lengthAdjust="spacingAndGlyphs">$45</text>
<text class="lb" x="417.3" y="428.8" textLength="39.3" lengthAdjust="spacingAndGlyphs">$138</text>
<text class="lb" x="419.0" y="493.8" textLength="31.3" lengthAdjust="spacingAndGlyphs">$75</text>
<text class="lb" x="439.4" y="560.0" textLength="39.3" lengthAdjust="spacingAndGlyphs">$148</text>
<text class="lb" x="461.5" y="625.0" textLength="39.3" lengthAdjust="spacingAndGlyphs">$178</text>
<text class="lb" x="420.4" y="710.5" textLength="41.8" lengthAdjust="spacingAndGlyphs">$245</text>
<text class="lb" x="501.0" y="398.8" textLength="39.3" lengthAdjust="spacingAndGlyphs">$145</text>
<text class="lb" x="522.9" y="484.0" textLength="39.3" lengthAdjust="spacingAndGlyphs">$176</text>
<text class="lb" x="540.4" y="560.0" textLength="39.3" lengthAdjust="spacingAndGlyphs">$103</text>
<text class="lb" x="543.2" y="642.0" textLength="39.3" lengthAdjust="spacingAndGlyphs">$192</text>
<text class="lb" x="561.3" y="736.0" textLength="39.3" lengthAdjust="spacingAndGlyphs">$168</text>
<text class="lb" x="575.6" y="427.0" textLength="39.3" lengthAdjust="spacingAndGlyphs">$175</text>
<text class="lb" x="588.8" y="523.8" textLength="39.3" lengthAdjust="spacingAndGlyphs">$120</text>
<text class="lb" x="662.0" y="449.5" textLength="39.3" lengthAdjust="spacingAndGlyphs">$147</text>
<text class="lb" x="644.4" y="523.3" textLength="39.3" lengthAdjust="spacingAndGlyphs">$167</text>
<text class="lb" x="594.8" y="677.0" textLength="39.3" lengthAdjust="spacingAndGlyphs">$197</text>
<text class="lb" x="651.3" y="677.0" textLength="39.3" lengthAdjust="spacingAndGlyphs">$178</text>
<text class="lb" x="712.5" y="677.0" textLength="41.8" lengthAdjust="spacingAndGlyphs">$223</text>
<text class="lb" x="755.6" y="641.3" textLength="36.8" lengthAdjust="spacingAndGlyphs">$171</text>
<text class="lb" x="101.3" y="758.6" textLength="39.3" lengthAdjust="spacingAndGlyphs">$130</text>
<text class="lb" transform="translate(697.5 501.5) rotate(-13)" x="0" y="6.1" textLength="39.3" lengthAdjust="spacingAndGlyphs">$126</text>
<text class="lb" transform="translate(663.8 567.5) rotate(-8)" x="0" y="6.1" textLength="39.3" lengthAdjust="spacingAndGlyphs">$173</text>
<text class="lb" transform="translate(644.3 605.0) rotate(-4)" x="0" y="6.1" textLength="39.3" lengthAdjust="spacingAndGlyphs">$164</text>
<text class="lb" transform="translate(736.3 533.0) rotate(-50)" x="0" y="6.1" textLength="39.3" lengthAdjust="spacingAndGlyphs">$162</text>
<text class="lb" transform="translate(772.5 554.5) rotate(-25)" x="0" y="6.1" textLength="36.8" lengthAdjust="spacingAndGlyphs">$141</text>
<text class="lb" transform="translate(769.0 594.5) rotate(-2)" x="0" y="6.1" textLength="39.3" lengthAdjust="spacingAndGlyphs">$218</text>
<text class="lb" transform="translate(775.9 472.6) rotate(-8)" x="0" y="6.1" textLength="39.3" lengthAdjust="spacingAndGlyphs">$142</text>
<text class="lb" transform="translate(803.5 425.5) rotate(-22)" x="0" y="6.1" textLength="41.8" lengthAdjust="spacingAndGlyphs">$230</text>
<text class="lb" transform="translate(760.0 760.0) rotate(62)" x="0" y="6.1" textLength="41.8" lengthAdjust="spacingAndGlyphs">$254</text>
<line class="ln" x1="886.7" y1="319.7" x2="913.5" y2="315.0"/>
<line class="ln" x1="862.6" y1="391.0" x2="911.0" y2="391.0"/>
<line class="ln" x1="871.0" y1="414.4" x2="913.5" y2="414.4"/>
<line class="ln" x1="872.6" y1="435.3" x2="913.5" y2="435.6"/>
<line class="ln" x1="857.6" y1="435.5" x2="881.0" y2="452.0"/>
<line class="ln" x1="835.6" y1="480.7" x2="876.1" y2="480.7"/>
<line class="ln" x1="828.1" y1="504.7" x2="876.6" y2="502.5"/>
<line class="ln" x1="826.8" y1="520.1" x2="873.0" y2="520.1"/>
<line class="ln" x1="800.0" y1="516.6" x2="875.9" y2="549.7"/>
<line class="ln" x1="840.2" y1="374.0" x2="822.2" y2="329.2"/>
<line class="ln" x1="307.0" y1="818.3" x2="333.8" y2="836.3"/>
<circle class="dot" cx="886.7" cy="319.7" r="4.9"/>
<text class="ab" x="919.3" y="318.4">ME</text>
<text class="vl" x="949.0" y="318.4">-</text>
<text class="vl" x="960.2" y="318.4" textLength="36.8" lengthAdjust="spacingAndGlyphs">$170</text>
<circle class="dot" cx="862.6" cy="391.0" r="4.9"/>
<text class="ab" x="918.5" y="396.0">NH</text>
<text class="vl" x="948.0" y="396.0">-</text>
<text class="vl" x="959.4" y="396.0" textLength="29.3" lengthAdjust="spacingAndGlyphs">$93</text>
<circle class="dot" cx="871.0" cy="414.4" r="4.9"/>
<text class="ab" x="920.0" y="420.3">MA</text>
<text class="vl" x="950.0" y="420.3">-</text>
<text class="vl" x="961.0" y="420.3" textLength="36.8" lengthAdjust="spacingAndGlyphs">$150</text>
<circle class="dot" cx="872.6" cy="435.3" r="4.9"/>
<text class="ab" x="924.3" y="442.0">RI</text>
<text class="vl" x="950.0" y="442.0">-</text>
<text class="vl" x="961.0" y="442.0" textLength="39.1" lengthAdjust="spacingAndGlyphs">$205</text>
<circle class="dot" cx="857.6" cy="435.5" r="4.9"/>
<text class="ab" x="885.4" y="460.4">CT</text>
<text class="vl" x="914.0" y="460.4">-</text>
<text class="vl" x="924.3" y="460.4" textLength="34.5" lengthAdjust="spacingAndGlyphs">$191</text>
<circle class="dot" cx="835.6" cy="480.7" r="4.9"/>
<text class="ab" x="884.7" y="485.4">NJ</text>
<text class="vl" x="914.0" y="485.4">-</text>
<text class="vl" x="924.3" y="485.4" textLength="36.8" lengthAdjust="spacingAndGlyphs">$106</text>
<circle class="dot" cx="828.1" cy="504.7" r="4.9"/>
<text class="ab" x="885.4" y="506.5">DE</text>
<text class="vl" x="914.0" y="506.5">-</text>
<text class="vl" x="924.3" y="506.5" textLength="34.5" lengthAdjust="spacingAndGlyphs">$117</text>
<circle class="dot" cx="826.8" cy="520.1" r="4.9"/>
<text class="ab" x="883.9" y="524.9">MD</text>
<text class="vl" x="914.0" y="524.9">-</text>
<text class="vl" x="924.3" y="524.9" textLength="29.3" lengthAdjust="spacingAndGlyphs">$90</text>
<circle class="dot" cx="800.0" cy="516.6" r="4.9"/>
<text class="ab" x="884.2" y="556.1">DC</text>
<text class="vl" x="912.0" y="556.1">-</text>
<text class="vl" x="923.1" y="556.1" textLength="36.8" lengthAdjust="spacingAndGlyphs">$100</text>
<circle class="dot" cx="840.2" cy="374.0" r="4.9"/>
<text class="ab" x="767.6" y="319.2">VT</text>
<text class="vl" x="788.5" y="319.2">-</text>
<text class="vl" x="799.3" y="319.2" textLength="34.5" lengthAdjust="spacingAndGlyphs">$151</text>
<circle class="dot" cx="307.0" cy="818.3" r="4.9"/>
<text class="ab" x="345.8" y="843.0">HI</text>
<text class="vl" x="366.0" y="843.0">-</text>
<text class="vl" x="377.5" y="843.0" textLength="36.8" lengthAdjust="spacingAndGlyphs">$197</text>
</g>
<g id="title" font-family="Liberation Serif, serif" font-weight="bold" fill="#1b1a9d" stroke="#1b1a9d" stroke-linejoin="round">
<g font-size="54" stroke-width="3.8">
<text x="135.1" y="52.2" textLength="131.4" lengthAdjust="spacingAndGlyphs">COST</text>
<text x="286.5" y="52.2" textLength="59.3" lengthAdjust="spacingAndGlyphs">OF</text>
<text x="364.3" y="52.2" textLength="33" lengthAdjust="spacingAndGlyphs">A</text>
<text x="412.9" y="52.2" textLength="266.2" lengthAdjust="spacingAndGlyphs">SPEEDING</text>
<text x="697.8" y="52.2" textLength="190.1" lengthAdjust="spacingAndGlyphs">TICKET</text>
</g>
<g font-size="40" stroke-width="2.8">
<text x="415.5" y="95.8" textLength="51.4" lengthAdjust="spacingAndGlyphs">BY</text>
<text x="481.3" y="95.8" textLength="122.9" lengthAdjust="spacingAndGlyphs">STATE</text>
</g>
</g>
<g id="subtitle" font-family="Liberation Sans, sans-serif">
<text x="288.2" y="250" font-size="18" font-weight="bold" fill="#17171a" textLength="448" lengthAdjust="spacingAndGlyphs">Ticket cost for speeding 15 MPH over the limit</text>
<text x="402" y="276.8" font-size="13.4" fill="#3a3a3e" textLength="182" lengthAdjust="spacingAndGlyphs">NATIONWIDE AVERAGE:</text>
<text x="588.5" y="276.8" font-size="13.4" font-weight="bold" fill="#17171a" textLength="32" lengthAdjust="spacingAndGlyphs">$157</text>
</g>
<g id="legend" font-family="Liberation Sans, sans-serif" font-weight="bold" font-size="16.2">
<rect x="382.3" y="862.3" width="257" height="31.6" fill="url(#lg)"/>
<text x="383.2" y="915.8" fill="#5b7fdc" textLength="30" lengthAdjust="spacingAndGlyphs">$30</text>
<text x="597.6" y="915.8" fill="#8f2b2b" textLength="39" lengthAdjust="spacingAndGlyphs">$290</text>
</g>
<g id="footer" font-family="Liberation Sans, sans-serif" font-weight="bold">
<text x="15.2" y="954.6" font-size="16" fill="#8b8b8e" textLength="586" lengthAdjust="spacingAndGlyphs">Cost totals include fine and standard court costs for a speeding violation</text>
<path d="M931.4 929 L1009 929 L1004.9 958 L926.9 958Z" fill="#2853b5"/>
<text x="810.2" y="952.3" font-size="23" font-style="italic" fill="#141433" stroke="#141433" stroke-width="1.5" textLength="114.9" lengthAdjust="spacingAndGlyphs">FINANCE</text>
<text x="933.3" y="952.3" font-size="23" font-style="italic" fill="#f4f6fb" stroke="#f4f6fb" stroke-width="1.3" textLength="69" lengthAdjust="spacingAndGlyphs">BUZZ</text>
</g>

</svg></body></html>
